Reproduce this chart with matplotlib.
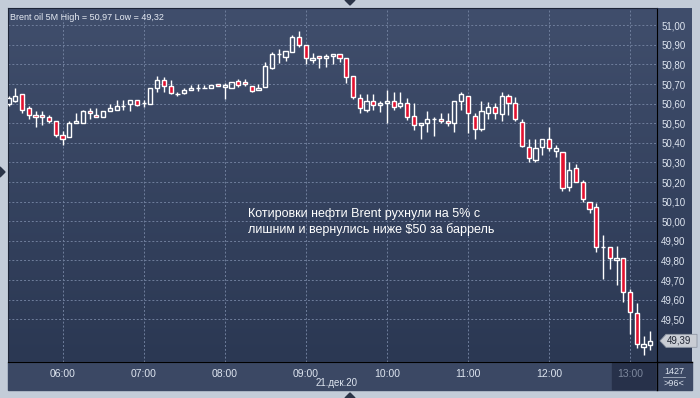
import numpy as np
import pandas as pd
import matplotlib
matplotlib.use('Agg')
import matplotlib.pyplot as plt
from matplotlib.colors import LinearSegmentedColormap
from matplotlib.patches import Rectangle, Polygon
from matplotlib.lines import Line2D

W, H = 700, 398

# Brent oil, 5-minute candles for 21.12.20, first bar at 05:20
opens = [50.60, 50.615, 50.65, 50.58, 50.54, 50.54, 50.53, 50.51, 50.44, 50.43,
         50.50, 50.50, 50.56, 50.54, 50.53, 50.56, 50.57, 50.59, 50.60, 50.62,
         50.605, 50.60, 50.68, 50.72, 50.69, 50.649, 50.655, 50.668, 50.682, 50.68,
         50.68, 50.699, 50.684, 50.68, 50.717, 50.711, 50.69, 50.668, 50.687, 50.78,
         50.854, 50.84, 50.865, 50.939, 50.898, 50.821, 50.842, 50.832, 50.842, 50.854,
         50.832, 50.74, 50.628, 50.568, 50.614, 50.592, 50.602, 50.614, 50.59, 50.602,
         50.539, 50.49, 50.50, 50.522, 50.522, 50.512, 50.50, 50.614, 50.639, 50.539,
         50.469, 50.551, 50.582, 50.545, 50.637, 50.602, 50.508, 50.381, 50.31, 50.381,
         50.418, 50.36, 50.352, 50.177, 50.27, 50.199, 50.10, 50.071, 49.87, 49.87,
         49.80, 49.811, 49.641, 49.531, 49.36, 49.369]
highs = [50.64, 50.68, 50.65, 50.59, 50.56, 50.56, 50.54, 50.51, 50.46, 50.51,
         50.55, 50.57, 50.58, 50.58, 50.56, 50.60, 50.62, 50.62, 50.62, 50.62,
         50.62, 50.68, 50.74, 50.735, 50.72, 50.66, 50.68, 50.694, 50.699, 50.695,
         50.697, 50.70, 50.707, 50.71, 50.726, 50.724, 50.69, 50.70, 50.813, 50.862,
         50.879, 50.867, 50.95, 50.97, 50.898, 50.857, 50.845, 50.855, 50.855, 50.854,
         50.832, 50.74, 50.649, 50.649, 50.649, 50.614, 50.67, 50.661, 50.661, 50.628,
         50.602, 50.50, 50.563, 50.533, 50.551, 50.551, 50.615, 50.661, 50.639, 50.551,
         50.614, 50.607, 50.602, 50.66, 50.65, 50.632, 50.52, 50.419, 50.419, 50.419,
         50.482, 50.389, 50.352, 50.30, 50.292, 50.21, 50.10, 50.092, 49.93, 49.87,
         49.874, 49.811, 49.653, 49.583, 49.415, 49.44]
lows = [50.59, 50.61, 50.55, 50.52, 50.48, 50.49, 50.50, 50.43, 50.39, 50.43,
        50.50, 50.50, 50.52, 50.53, 50.53, 50.56, 50.57, 50.57, 50.56, 50.59,
        50.585, 50.60, 50.66, 50.66, 50.648, 50.639, 50.648, 50.668, 50.666, 50.68,
        50.679, 50.69, 50.626, 50.68, 50.687, 50.689, 50.658, 50.668, 50.687, 50.779,
        50.809, 50.82, 50.865, 50.888, 50.80, 50.806, 50.78, 50.789, 50.80, 50.81,
        50.707, 50.626, 50.551, 50.559, 50.568, 50.559, 50.50, 50.57, 50.577, 50.517,
        50.467, 50.418, 50.457, 50.435, 50.50, 50.488, 50.457, 50.568, 50.449, 50.418,
        50.46, 50.52, 50.52, 50.51, 50.54, 50.51, 50.38, 50.301, 50.301, 50.338,
        50.359, 50.33, 50.156, 50.156, 50.20, 50.10, 50.041, 49.842, 49.707, 49.758,
        49.677, 49.59, 49.424, 49.352, 49.32, 49.343]
closes = [50.63, 50.64, 50.57, 50.54, 50.53, 50.53, 50.51, 50.44, 50.42, 50.50,
          50.51, 50.56, 50.55, 50.53, 50.56, 50.58, 50.59, 50.59, 50.62, 50.595,
          50.605, 50.68, 50.72, 50.69, 50.655, 50.649, 50.67, 50.68, 50.682, 50.68,
          50.697, 50.69, 50.694, 50.71, 50.697, 50.70, 50.666, 50.68, 50.792, 50.854,
          50.854, 50.867, 50.939, 50.898, 50.832, 50.832, 50.832, 50.843, 50.852, 50.832,
          50.738, 50.636, 50.58, 50.614, 50.592, 50.602, 50.614, 50.582, 50.602, 50.53,
          50.49, 50.50, 50.52, 50.522, 50.512, 50.50, 50.615, 50.648, 50.551, 50.471,
          50.563, 50.582, 50.551, 50.637, 50.602, 50.52, 50.382, 50.321, 50.372, 50.418,
          50.372, 50.372, 50.168, 50.262, 50.202, 50.113, 50.061, 49.87, 49.87, 49.811,
          49.811, 49.641, 49.539, 49.372, 49.372, 49.39]
times = pd.date_range('2020-12-21 05:20', periods=len(opens), freq='5min')
price_ticks = [49.5, 49.6, 49.7, 49.8, 49.9, 50.0, 50.1, 50.2, 50.3, 50.4,
               50.5, 50.6, 50.7, 50.8, 50.9, 51.0]
title = 'Brent oil 5M High = 50,97 Low = 49,32'
note = 'Котировки нефти Brent рухнули на 5% с\nлишним и вернулись ниже $50 за баррель'
date_label = '21.дек.20'

plt.rcParams['font.family'] = ['Liberation Sans', 'DejaVu Sans']

txt = '#dde4ef'
red = '#e3112f'


def fx(px):
    return px / W


def fy(py):
    return 1 - py / H


fig = plt.figure(figsize=(7, 3.98), dpi=100)
fig.patch.set_facecolor('#c3ccd8')

# gradient behind plot and price scale
bg = fig.add_axes([fx(8), fy(362), fx(692) - fx(8), fy(8) - fy(362)], zorder=-5)
cmap = LinearSegmentedColormap.from_list('bg', ['#2b3853', '#404e6c'])
bg.imshow(np.linspace(0, 1, 256).reshape(-1, 1), aspect='auto', cmap=cmap,
          origin='lower', extent=[0, 1, 0, 1])
bg.set_axis_off()

# bottom time panel
fig.add_artist(Rectangle((fx(8), fy(390)), fx(692) - fx(8), fy(362) - fy(390),
                         transform=fig.transFigure, color='#3b4864', zorder=-3))
fig.add_artist(Rectangle((fx(612), fy(389)), fx(655) - fx(612), fy(363) - fy(389),
                         transform=fig.transFigure, color='#27314a', zorder=-2))

ax = fig.add_axes([fx(8), fy(362), fx(657) - fx(8), fy(8) - fy(362)])
ax.set_facecolor('none')

x = np.arange(len(opens))
o = np.array(opens)
c = np.array(closes)
up = c >= o
top = np.maximum(o, c)
bot = np.minimum(o, c)

# wicks (split so hollow bodies stay hollow)
ax.vlines(x, top, highs, color='white', lw=1, zorder=3)
ax.vlines(x, lows, bot, color='white', lw=1, zorder=3)
ax.bar(x[up], (c - o)[up], bottom=o[up], width=0.62, facecolor='none',
       edgecolor='white', linewidth=1, zorder=4)
ax.bar(x[~up], (c - o)[~up], bottom=o[~up], width=0.62, facecolor=red,
       edgecolor='white', linewidth=1, zorder=4)

ax.set_xlim(-0.08, 95.99)
ax.set_ylim(49.282, 51.088)

hour_idx = [i for i, t in enumerate(times) if t.minute == 0]
ax.set_xticks(hour_idx)
ax.set_xticklabels([times[i].strftime('%H:%M') for i in hour_idx])
ax.set_yticks(price_ticks)
ax.set_yticklabels([f'{v:.2f}'.replace('.', ',') for v in price_ticks])
ax.yaxis.tick_right()
ax.tick_params(axis='y', length=0, pad=3, labelsize=7, labelcolor=txt)
ax.tick_params(axis='x', length=0, pad=5, labelsize=7.5, labelcolor=txt)
ax.get_xticklabels()[-1].set_color('#7c879c')
ax.grid(color='#6f7e9c', linestyle=(0, (2, 2)), linewidth=0.7, zorder=1)
ax.set_axisbelow(True)

for side in ['left', 'top']:
    ax.spines[side].set_color('#1d2537')
for side in ['right', 'bottom']:
    ax.spines[side].set_color('black')

# extend separators into the corner
fig.add_artist(Line2D([fx(657), fx(657)], [fy(362), fy(390)], color='black', lw=1,
                      transform=fig.transFigure))
fig.add_artist(Line2D([fx(657), fx(692)], [fy(362), fy(362)], color='black', lw=1,
                      transform=fig.transFigure))

# texts
fig.text(fx(10), fy(17), title, color='#e6ebf3', fontsize=6.5, va='center', ha='left')
fig.text(fx(248), fy(222), note, color='white', fontsize=9, va='center', ha='left',
         linespacing=1.25)
fig.text(fx(337), fy(383), date_label, color=txt, fontsize=7, va='center', ha='center')
fig.text(fx(674), fy(371), '1427', color=txt, fontsize=6.5, va='center', ha='center')
fig.text(fx(674), fy(383), '>96<', color=txt, fontsize=6.5, va='center', ha='center')
fig.add_artist(Line2D([fx(663), fx(685)], [fy(377), fy(377)], color='#aab3c3', lw=0.6,
                      transform=fig.transFigure))

# last price marker
y0 = ax.transData.transform((0, closes[-1]))[1]
pts = [(660, y0), (666, y0 + 6.5), (697, y0 + 6.5), (697, y0 - 6.5), (666, y0 - 6.5)]
fig.add_artist(Polygon([(px / W, py / H) for px, py in pts], closed=True,
                       transform=fig.transFigure, fc='#c9cdd4', ec='#8f97a4', lw=0.6))
fig.text(fx(667), y0 / H, f'{closes[-1]:.2f}'.replace('.', ','), color='#1f2533',
         fontsize=7, va='center', ha='left')

# small scroll triangles on the frame
for tri in ([(345, 0), (355, 0), (350, 5)],
            [(345, 398), (355, 398), (350, 393)],
            [(0, 167), (0, 177), (5, 172)]):
    fig.add_artist(Polygon([(fx(a), fy(b)) for a, b in tri], closed=True,
                           transform=fig.transFigure, color='#2a3447'))

fig.savefig('out.png', dpi=100, facecolor=fig.get_facecolor())
